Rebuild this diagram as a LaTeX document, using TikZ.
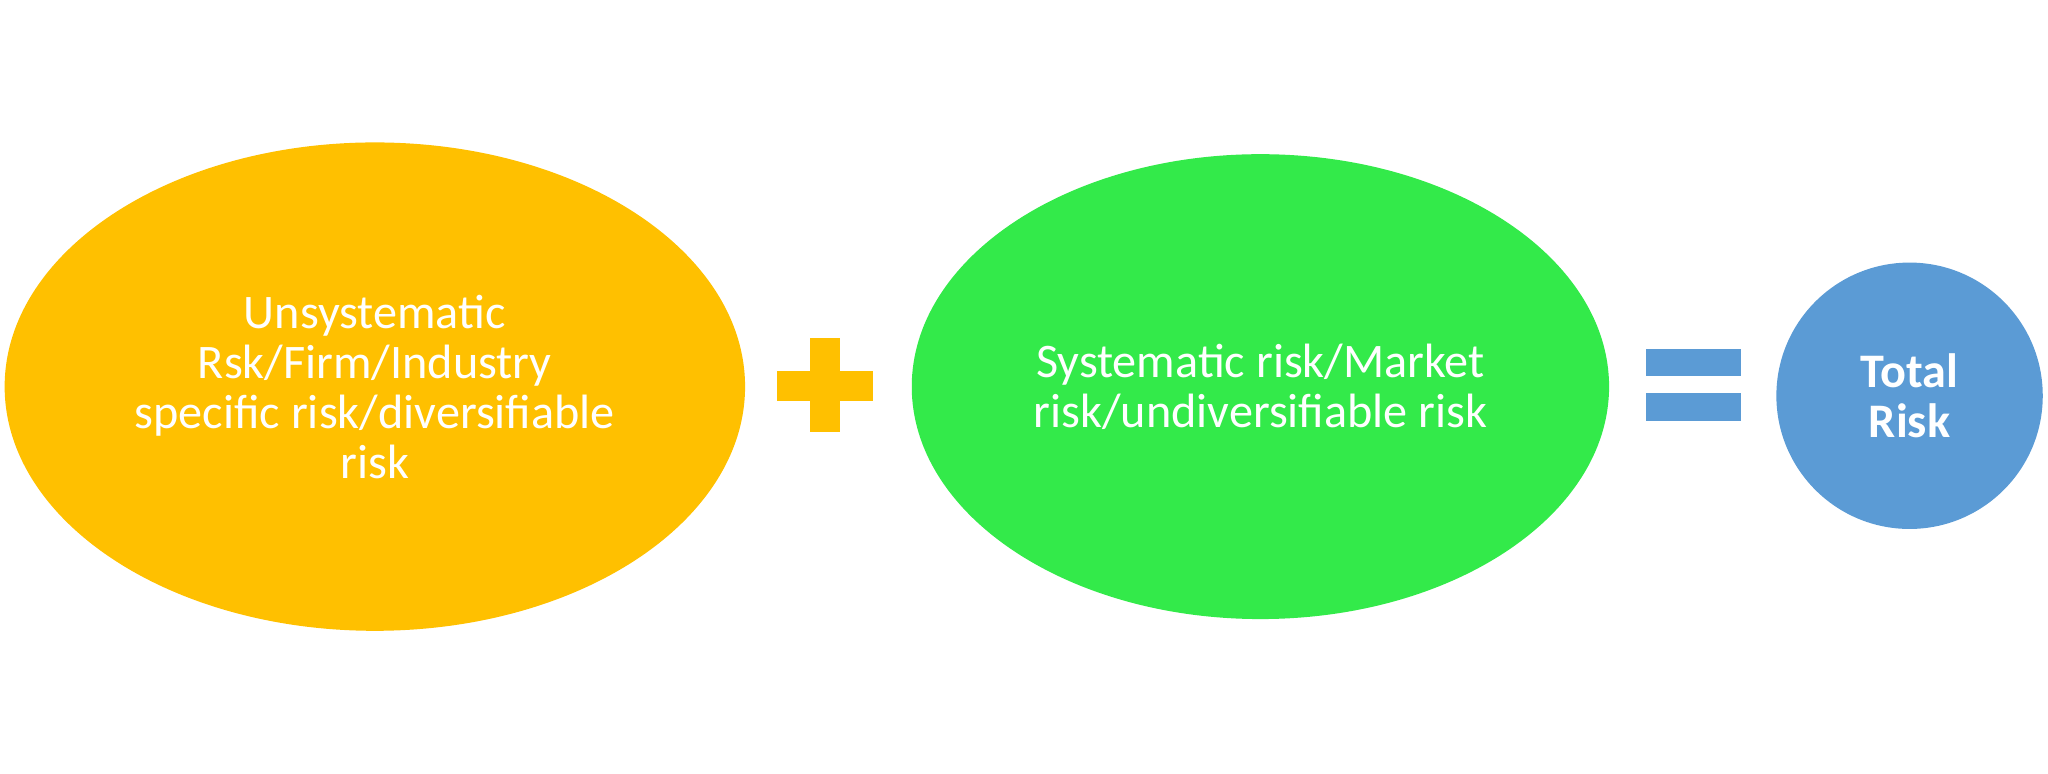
\documentclass[tikz,border=0pt]{standalone}
\usepackage{fontspec}
\setmainfont{Carlito}
\usetikzlibrary{shapes.geometric}
\definecolor{org}{HTML}{FFC000}
\definecolor{grn}{HTML}{33EA4A}
\definecolor{blu}{HTML}{5B9BD5}
\begin{document}
\begin{tikzpicture}[x=0.02cm,y=-0.02cm,
  blob/.style={ellipse,inner sep=0pt,text=white,align=center,font=\fontsize{21}{21.8}\selectfont}]
\useasboundingbox (0,0) rectangle (1568,592);
\node[blob,fill=org,minimum width=11.34cm,minimum height=7.48cm] (u) at (287,296) {Unsystematic\\Rsk/Firm/Industry\\specific risk/diversifiable\\risk};
\node[blob,fill=grn,minimum width=10.68cm,minimum height=7.12cm] (s) at (965,296) {Systematic risk/Market\\risk/undiversifiable risk};
\node[blob,circle,fill=blu,minimum size=4.08cm,font=\bfseries\fontsize{21}{21.8}\selectfont] (t) at (1462,303) {Total\\Risk};
\fill[org] (620,259) rectangle (643,331);
\fill[org] (595,284) rectangle (668,307);
\fill[blu] (1260,267) rectangle (1333,288);
\fill[blu] (1260,301) rectangle (1333,322);
\end{tikzpicture}
\end{document}
